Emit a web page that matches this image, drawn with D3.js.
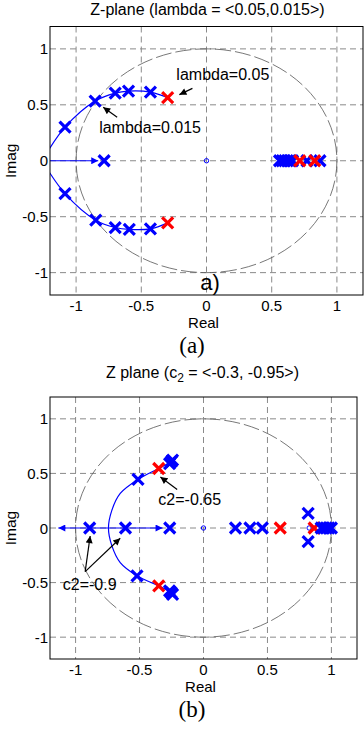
<!DOCTYPE html>
<html>
<head>
<meta charset="utf-8">
<script src="https://cdn.jsdelivr.net/npm/d3@7"></script>
<style>
  body { margin: 0; background: #fff; }
  text { font-family: "Liberation Sans", Arial, sans-serif; }
</style>
</head>
<body>
<div id="chart"></div>
<script>
// tick values shared by both panels
var ticks = [-1, -0.5, 0, 0.5, 1];
var tickLabels = ["-1", "-0.5", "0", "0.5", "1"];

// panel (a): lambda sweep
var aUpperLine = [[-1.25, 0.02], [-1.085, 0.30], [-0.854, 0.534], [-0.70, 0.605], [-0.598, 0.623], [-0.43, 0.614], [-0.298, 0.564]];
var aLowerLine = [[-1.25, -0.02], [-1.085, -0.293], [-0.849, -0.531], [-0.70, -0.597], [-0.592, -0.614], [-0.43, -0.609], [-0.298, -0.555]];
var aAxisArrows = [[[-1.25, 0], [-0.83, 0]]];
var aBlue = [[-1.085, 0.30], [-0.854, 0.534], [-0.70, 0.605], [-0.598, 0.623], [-0.43, 0.614],
             [-1.085, -0.293], [-0.849, -0.531], [-0.70, -0.597], [-0.592, -0.614], [-0.43, -0.609],
             [-0.785, 0], [0.56, 0], [0.58, 0], [0.60, 0], [0.62, 0], [0.64, 0], [0.66, 0], [0.77, 0], [0.87, 0]];
var aRed = [[-0.298, 0.564], [-0.298, -0.555], [0.715, 0], [0.83, 0]];
var aZeros = [[0, 0]];
var aNotes = [
  {text: "lambda=0.05", at: [-0.231, 0.719], from: [-0.108, 0.647], to: [[-0.208, 0.591]]},
  {text: "lambda=0.015", at: [-0.823, 0.246], from: [-0.685, 0.388], to: [[-0.792, 0.478]]}
];

// panel (b): c2 sweep
var bLine = [[-0.25, 0.61], [-0.35, 0.545], [-0.512, 0.445], [-0.651, 0.317], [-0.716, 0.164], [-0.743, 0],
             [-0.716, -0.164], [-0.651, -0.317], [-0.52, -0.438], [-0.35, -0.53], [-0.25, -0.59]];
var bAxisArrows = [[[-0.75, 0], [-1.135, 0]], [[-0.75, 0], [-0.32, 0]]];
var bBlue = [[-0.89, 0], [-0.61, 0], [-0.264, 0], [0.25, 0], [0.363, 0], [0.46, 0],
             [-0.512, 0.445], [-0.52, -0.438],
             [-0.265, 0.59], [-0.252, 0.607], [-0.242, 0.622],
             [-0.265, -0.575], [-0.252, -0.592], [-0.242, -0.607],
             [0.818, 0.134], [0.818, -0.125],
             [0.92, 0], [0.94, 0], [0.96, 0], [0.98, 0], [1.0, 0]];
var bRed = [[-0.35, 0.545], [-0.35, -0.53], [0.60, 0], [0.865, 0]];
var bZeros = [[0, 0], [0.826, 0]];
var bNotes = [
  {text: "c2=-0.65", at: [-0.353, 0.21], from: [-0.206, 0.353], to: [[-0.337, 0.468]]},
  {text: "c2=-0.9", at: [-1.10, -0.566], from: [-0.925, -0.40], to: [[-0.886, -0.073], [-0.651, -0.094]]}
];

var svgWidth = 364;
var svgHeight = 730;

var svg = d3.select("#chart")
  .append("svg")
  .attr("width", svgWidth)
  .attr("height", svgHeight);

// arrow heads
var defs = svg.append("defs");
[["blueHead", "#0000ff"], ["blackHead", "#000"]].forEach(function(h) {
  defs.append("marker")
    .attr("id", h[0])
    .attr("viewBox", "0 0 10 10")
    .attr("refX", 10)
    .attr("refY", 5)
    .attr("markerWidth", 9)
    .attr("markerHeight", 7)
    .attr("markerUnits", "userSpaceOnUse")
    .attr("orient", "auto")
    .append("path")
    .attr("d", "M0,0 L10,5 L0,10 Z")
    .attr("fill", h[1]);
});

function panel(opt) {
  var xScale = d3.scaleLinear().domain([-1.2, 1.2]).range([opt.left, opt.right]);
  var yScale = d3.scaleLinear().domain([-1.2, 1.2]).range([opt.bottom, opt.top]);
  var g = svg.append("g");

  defs.append("clipPath").attr("id", opt.id)
    .append("rect")
    .attr("x", opt.left).attr("y", opt.top)
    .attr("width", opt.right - opt.left).attr("height", opt.bottom - opt.top);

  // grid
  g.append("g").selectAll("line").data(ticks).enter().append("line")
    .attr("x1", d => xScale(d)).attr("x2", d => xScale(d))
    .attr("y1", opt.top).attr("y2", opt.bottom)
    .attr("stroke", "#8a8a8a").attr("stroke-dasharray", "6,4");
  g.append("g").selectAll("line").data(ticks).enter().append("line")
    .attr("y1", d => yScale(d)).attr("y2", d => yScale(d))
    .attr("x1", opt.left).attr("x2", opt.right)
    .attr("stroke", "#8a8a8a").attr("stroke-dasharray", "6,4");

  // unit circle
  g.append("ellipse")
    .attr("cx", xScale(0)).attr("cy", yScale(0))
    .attr("rx", xScale(1) - xScale(0)).attr("ry", yScale(0) - yScale(1))
    .attr("fill", "none").attr("stroke", "#555").attr("stroke-width", 0.8)
    .attr("stroke-dasharray", "16,4");

  var plot = g.append("g").attr("clip-path", "url(#" + opt.id + ")");

  // locus branches
  var line = d3.line().x(d => xScale(d[0])).y(d => yScale(d[1])).curve(d3.curveCatmullRom);
  opt.lines.forEach(function(l) {
    plot.append("path").attr("d", line(l))
      .attr("fill", "none").attr("stroke", "#0000ff").attr("stroke-width", 1.2);
  });
  opt.arrows.forEach(function(a) {
    plot.append("line")
      .attr("x1", xScale(a[0][0])).attr("y1", yScale(a[0][1]))
      .attr("x2", xScale(a[1][0])).attr("y2", yScale(a[1][1]))
      .attr("stroke", "#0000ff").attr("stroke-width", 1.2)
      .attr("marker-end", "url(#blueHead)");
  });

  // zeros
  plot.selectAll("circle.zero").data(opt.zeros).enter().append("circle")
    .attr("cx", d => xScale(d[0])).attr("cy", d => yScale(d[1]))
    .attr("r", 2.2).attr("fill", "none").attr("stroke", "#0000ff").attr("stroke-width", 1);

  // pole markers
  function crosses(data, color) {
    plot.append("g").selectAll("path").data(data).enter().append("path")
      .attr("d", d => {
        var x = xScale(d[0]), y = yScale(d[1]), s = 5.5;
        return "M" + (x - s) + "," + (y - s) + "L" + (x + s) + "," + (y + s) +
               "M" + (x - s) + "," + (y + s) + "L" + (x + s) + "," + (y - s);
      })
      .attr("stroke", color).attr("stroke-width", 3.2).attr("fill", "none");
  }
  opt.layers.forEach(l => crosses(l[0], l[1]));

  // annotations
  opt.notes.forEach(function(n) {
    g.append("text")
      .attr("x", xScale(n.at[0])).attr("y", yScale(n.at[1]))
      .attr("font-size", 16).text(n.text);
    n.to.forEach(function(t) {
      g.append("line")
        .attr("x1", xScale(n.from[0])).attr("y1", yScale(n.from[1]))
        .attr("x2", xScale(t[0])).attr("y2", yScale(t[1]))
        .attr("stroke", "#000").attr("stroke-width", 1.2)
        .attr("marker-end", "url(#blackHead)");
    });
  });

  // box
  g.append("rect")
    .attr("x", opt.left).attr("y", opt.top)
    .attr("width", opt.right - opt.left).attr("height", opt.bottom - opt.top)
    .attr("fill", "none").attr("stroke", "#000").attr("stroke-width", 1);

  // tick labels
  g.append("g").selectAll("text").data(ticks).enter().append("text")
    .attr("x", d => xScale(d)).attr("y", opt.bottom + 16)
    .attr("text-anchor", "middle").attr("font-size", 15)
    .text((d, i) => tickLabels[i]);
  g.append("g").selectAll("text").data(ticks).enter().append("text")
    .attr("x", opt.left - 2).attr("y", d => yScale(d) + 5.5)
    .attr("text-anchor", "end").attr("font-size", 15)
    .text((d, i) => tickLabels[i]);

  g.append("text")
    .attr("x", (opt.left + opt.right) / 2 - 3).attr("y", opt.bottom + 33)
    .attr("text-anchor", "middle").attr("font-size", 15).text("Real");
  g.append("text")
    .attr("transform", `translate(16, ${(opt.top + opt.bottom) / 2}) rotate(-90)`)
    .attr("text-anchor", "middle").attr("font-size", 15.5).text("Imag");

  g.append("text")
    .attr("x", 192).attr("y", opt.bottom + 58)
    .attr("text-anchor", "middle").attr("font-size", 23)
    .style("font-family", "'Liberation Serif', 'Times New Roman', serif")
    .text(opt.caption);

  return {x: xScale, y: yScale, g: g};
}

var pa = panel({id: "clipA", left: 50, right: 363, top: 26.5, bottom: 295,
  lines: [aUpperLine, aLowerLine], arrows: aAxisArrows, zeros: aZeros,
  layers: [[aBlue, "#0000ff"], [aRed, "#ff0000"]], notes: aNotes, caption: "(a)"});

pa.g.append("text")
  .attr("x", 207.5).attr("y", 15)
  .attr("text-anchor", "middle").attr("font-size", 16)
  .text("Z-plane (lambda = <0.05,0.015>)");
pa.g.append("text")
  .attr("x", 210).attr("y", 290)
  .attr("text-anchor", "middle").attr("font-size", 22)
  .text("a)");

var pb = panel({id: "clipB", left: 50, right: 357, top: 397, bottom: 659,
  lines: [bLine], arrows: bAxisArrows, zeros: bZeros,
  layers: [[bRed, "#ff0000"], [bBlue, "#0000ff"]], notes: bNotes, caption: "(b)"});

var bt = pb.g.append("text")
  .attr("x", 202.5).attr("y", 378)
  .attr("text-anchor", "middle").attr("font-size", 16);
bt.append("tspan").text("Z plane (c");
bt.append("tspan").attr("dy", 4).attr("font-size", 12).text("2");
bt.append("tspan").attr("dy", -4).text(" = <-0.3, -0.95>)");
</script>
</body>
</html>
